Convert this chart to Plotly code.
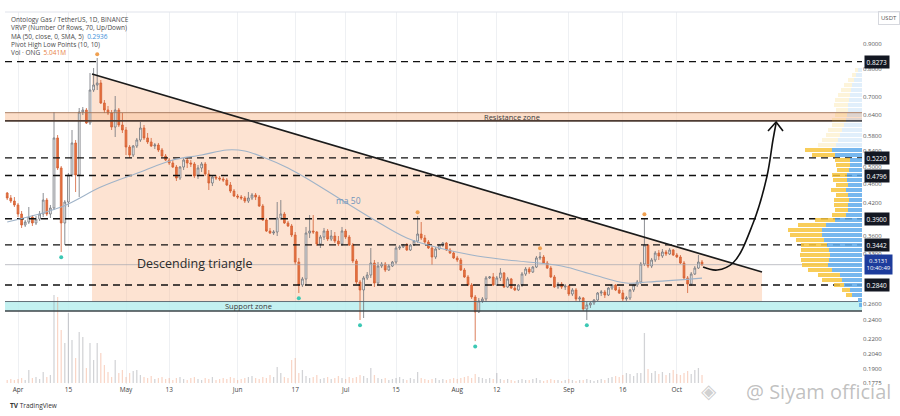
import numpy as np
import pandas as pd
import plotly.graph_objects as go

# ONG / USDT daily candles, 29 Mar 2024 -> 8 Oct 2024
start_date = "2024-03-29"

opens = [
    .4412, .4308, .4246, .4166, .3990, .3786, .3840, .3933, .3822, .3896,
    .3990, .4266, .3990, .4106, .5741, .4973, .3822, .4226, .4809, .5605,
    .4809, .6500, .6563, .6167, .7222, .7397, .7468, .6787, .6563, .6469,
    .6050, .6563, .6109, .5964, .5498, .5291, .5525, .5686, .6022, .5741,
    .5632, .5525, .5551, .5420, .5266, .5166, .5093, .4996, .4740, .4996,
    .5166, .5093, .5069, .4786, .4973, .5069, .4832, .4628, .4763, .4740,
    .4718, .4695, .4584, .4454, .4349, .4328, .4308, .4246, .4308, .4370,
    .4328, .4146, .3877, .3678, .3643, .3661, .3914, .3990, .3822, .3768,
    .3609, .3171, .2841, .2924, .3643, .3678, .3661, .3457, .3574, .3678,
    .3540, .3591, .3506, .3457, .3678, .3574, .3440, .3187, .2882, .2774,
    .2938, .2980, .3156, .2868, .3111, .3141, .3052, .3111, .3171, .3391,
    .3407, .3440, .3359, .3440, .3506, .3626, .3557, .3490, .3391, .3248,
    .3375, .3440, .3473, .3359, .3311, .3233, .3202, .3052, .2952, .2841,
    .2682, .2497, .2632, .2657, .2938, .2952, .2841, .2938, .3009, .2814,
    .2924, .2800, .2774, .2841, .2994, .3067, .3023, .3096, .3233, .3248,
    .3156, .3081, .2952, .2814, .2854, .2814, .2827, .2721, .2774, .2657,
    .2670, .2533, .2582, .2607, .2644, .2734, .2747, .2708, .2800, .2841,
    .2774, .2734, .2657, .2670, .2774, .2841, .2882, .3141, .3440, .3111,
    .3202, .3311, .3264, .3327, .3295, .3359, .3279, .3248, .3156, .2938,
    .2854, .2994, .3081, .3171,
]
highs = [
    .4433, .4370, .4328, .4206, .4048, .3877, .4126, .3971, .3952, .4048,
    .4412, .4308, .4166, .6500, .5823, .5020, .4266, .4855, .5964, .5686,
    .6626, .6658, .6626, .7834, .8023, .8417, .7576, .6885, .6690, .6563,
    .7018, .6626, .6469, .6050, .5551, .5551, .5741, .6197, .6109, .5879,
    .5741, .5605, .5605, .5472, .5317, .5216, .5166, .5044, .5020, .5216,
    .5241, .5166, .5117, .5044, .5117, .5117, .4925, .4809, .4809, .4786,
    .4763, .4740, .4650, .4497, .4391, .4370, .4349, .4433, .4412, .4412,
    .4370, .4186, .3914, .3732, .3696, .4226, .4266, .4029, .3859, .3804,
    .3661, .3233, .2952, .3750, .3971, .3971, .3678, .3609, .3732, .3714,
    .3696, .3661, .3591, .3750, .3714, .3609, .3473, .3217, .2910, .2966,
    .3023, .3391, .3202, .3171, .3171, .3171, .3141, .3187, .3424, .3440,
    .3457, .3473, .3457, .3523, .3952, .3840, .3609, .3523, .3424, .3407,
    .3457, .3490, .3490, .3391, .3343, .3264, .3233, .3081, .2980, .2868,
    .2708, .2670, .2682, .2966, .2966, .3009, .2966, .3081, .3023, .2952,
    .2938, .2827, .2854, .3023, .3096, .3096, .3111, .3264, .3327, .3279,
    .3187, .3111, .2980, .2882, .2882, .2854, .2841, .2800, .2800, .2695,
    .2682, .2619, .2619, .2657, .2747, .2774, .2774, .2814, .2854, .2854,
    .2814, .2774, .2695, .2787, .2854, .2910, .3171, .3914, .3457, .3233,
    .3343, .3359, .3375, .3359, .3391, .3375, .3311, .3279, .3187, .2966,
    .3023, .3111, .3279, .3202,
]
lows = [
    .4266, .4206, .4126, .3933, .3732, .3750, .3804, .3768, .3786, .3859,
    .3933, .3952, .3914, .4067, .4925, .3327, .3440, .4126, .4763, .4433,
    .4328, .6408, .6138, .6109, .7153, .7222, .6754, .6469, .6408, .5964,
    .5768, .6050, .5879, .5291, .5216, .5241, .5472, .5632, .5686, .5578,
    .5498, .5446, .5368, .5241, .5142, .5044, .4973, .4673, .4695, .4925,
    .4973, .4996, .4740, .4718, .4878, .4786, .4476, .4562, .4695, .4673,
    .4650, .4562, .4412, .4328, .4287, .4266, .4206, .4206, .4266, .4266,
    .4126, .3859, .3661, .3626, .3609, .3591, .3877, .3804, .3750, .3574,
    .3126, .2734, .2814, .2841, .3557, .3626, .3424, .3391, .3523, .3506,
    .3506, .3473, .3424, .3424, .3540, .3424, .3156, .2854, .2403, .2426,
    .2910, .2938, .2814, .2841, .3081, .3023, .3038, .3096, .3141, .3359,
    .3391, .3343, .3343, .3424, .3473, .3523, .3457, .3375, .3126, .3217,
    .3359, .3407, .3343, .3295, .3217, .3171, .3038, .2938, .2827, .2657,
    .2172, .2485, .2607, .2619, .2924, .2827, .2827, .2896, .2800, .2800,
    .2787, .2760, .2760, .2814, .2966, .2994, .3009, .3081, .3202, .3141,
    .3067, .2938, .2800, .2787, .2787, .2774, .2695, .2695, .2632, .2619,
    .2509, .2403, .2545, .2582, .2632, .2695, .2670, .2695, .2774, .2760,
    .2721, .2632, .2632, .2644, .2747, .2814, .2854, .3111, .3081, .3081,
    .3171, .3202, .3233, .3264, .3279, .3264, .3233, .3141, .2924, .2734,
    .2827, .2980, .3067, .3111,
]
closes = [
    .4308, .4246, .4166, .3990, .3786, .3840, .3933, .3822, .3896, .3990,
    .4266, .3990, .4106, .5741, .4973, .3822, .4226, .4809, .5605, .4809,
    .6500, .6563, .6167, .7222, .7397, .7468, .6787, .6563, .6469, .6050,
    .6563, .6109, .5964, .5498, .5291, .5525, .5686, .6022, .5741, .5632,
    .5525, .5551, .5420, .5266, .5166, .5093, .4996, .4740, .4996, .5166,
    .5093, .5069, .4786, .4973, .5069, .4832, .4628, .4763, .4740, .4718,
    .4695, .4584, .4454, .4349, .4328, .4308, .4246, .4308, .4370, .4328,
    .4146, .3877, .3678, .3643, .3661, .3914, .3990, .3822, .3768, .3609,
    .3171, .2841, .2924, .3643, .3678, .3661, .3457, .3574, .3678, .3540,
    .3591, .3506, .3457, .3678, .3574, .3440, .3187, .2882, .2774, .2938,
    .2980, .3156, .2868, .3111, .3141, .3052, .3111, .3171, .3391, .3407,
    .3440, .3359, .3440, .3506, .3626, .3557, .3490, .3391, .3248, .3375,
    .3440, .3473, .3359, .3311, .3233, .3202, .3052, .2952, .2841, .2682,
    .2497, .2632, .2657, .2938, .2952, .2841, .2938, .3009, .2814, .2924,
    .2800, .2774, .2841, .2994, .3067, .3023, .3096, .3233, .3248, .3156,
    .3081, .2952, .2814, .2854, .2814, .2827, .2721, .2774, .2657, .2670,
    .2533, .2582, .2607, .2644, .2734, .2747, .2708, .2800, .2841, .2774,
    .2734, .2657, .2670, .2774, .2841, .2882, .3141, .3440, .3111, .3202,
    .3311, .3264, .3327, .3295, .3359, .3279, .3248, .3156, .2938, .2854,
    .2994, .3081, .3171, .3131,
]
# daily volume (relative, M ONG)
volumes = [
    3, 4, 3, 4, 5, 3, 13, 5, 6, 4,
    11, 6, 8, 88, 86, 53, 40, 70, 43, 25,
    51, 46, 15, 40, 23, 40, 30, 18, 11, 6,
    23, 10, 13, 6, 10, 12, 13, 8, 6, 5,
    7, 4, 5, 6, 4, 5, 3, 5, 6, 4,
    3, 5, 6, 4, 3, 5, 4, 6, 3, 4,
    5, 4, 6, 5, 3, 4, 5, 6, 7, 5,
    4, 6, 5, 8, 6, 16, 10, 6, 5, 23,
    25, 10, 13, 7, 5, 6, 8, 4, 5, 6,
    4, 5, 7, 5, 4, 6, 5, 6, 8, 7,
    5, 15, 8, 5, 4, 5, 3, 4, 5, 6,
    4, 3, 5, 4, 11, 5, 4, 3, 4, 5,
    3, 4, 3, 4, 5, 4, 5, 6, 7, 5,
    9, 6, 5, 4, 5, 4, 10, 4, 3, 4,
    3, 2, 3, 4, 3, 3, 4, 5, 3, 2,
    3, 4, 3, 3, 2, 3, 4, 3, 2, 3,
    3, 4, 3, 2, 3, 4, 3, 5, 6, 7,
    6, 8, 10, 9, 7, 10, 10, 50, 14, 10,
    12, 9, 11, 8, 10, 13, 9, 8, 10, 12,
    9, 13, 15, 8,
]

# MA (50, close) sampled along the drawn line
ma_dates = ["2024-03-29", "2024-04-13", "2024-04-24", "2024-05-05", "2024-05-14",
            "2024-05-22", "2024-05-29", "2024-06-03", "2024-06-08", "2024-06-15",
            "2024-06-20", "2024-06-29", "2024-07-09", "2024-07-18", "2024-07-27",
            "2024-08-05", "2024-08-15", "2024-08-30", "2024-09-08", "2024-09-17",
            "2024-09-23", "2024-10-08"]
ma_values = [.3840, .4126, .4540, .4878, .5166, .5291, .5420, .5394, .5241, .4973,
             .4740, .4308, .3877, .3557, .3391, .3279, .3202, .3111, .2980, .2868,
             .2882, .2936]

# Pivot High Low Points (10, 10)
pivot_high_dates = ["2024-04-23", "2024-07-21", "2024-08-24", "2024-09-22"]
pivot_low_dates = ["2024-04-13", "2024-06-18", "2024-07-05", "2024-08-06", "2024-09-06"]

# drawn levels
key_levels = [0.8273, 0.5220, 0.4796, 0.3900, 0.3442, 0.2840]
last_price = 0.3131
last_time = "10:40:49"
resistance_zone = [0.623, 0.648]
support_zone = [0.2509, 0.2625]
triangle_start = ["2024-04-21 13:30", 0.7797]
triangle_end = ["2024-10-24 16:00", 0.3023]

# hand-drawn breakout arrow
arrow_dates = ["2024-10-08 07:00", "2024-10-12 05:00", "2024-10-16 14:00", "2024-10-22 05:00",
               "2024-10-26 00:00", "2024-10-27 17:00", "2024-10-28 14:00"]
arrow_prices = [0.3096, 0.3052, 0.3156, 0.3822, 0.4763, 0.5686, 0.6167]
arrow_head_dates = ["2024-10-26 08:00", "2024-10-28 14:00", "2024-10-30 12:00"]
arrow_head_prices = [0.5936, 0.6197, 0.5936]

# VRVP rows (Up/Down volume per price row)
profile_prices = [0.7947, 0.7759, 0.7576, 0.7397, 0.7222, 0.7051, 0.6885, 0.6722, 0.6563, 0.6408,
                  0.6256, 0.6109, 0.5964, 0.5823, 0.5686, 0.5551, 0.5420, 0.5291, 0.5166, 0.5044,
                  0.4925, 0.4809, 0.4695, 0.4584, 0.4476, 0.4370, 0.4266, 0.4166, 0.4067, 0.3971,
                  0.3877, 0.3786, 0.3696, 0.3609, 0.3523, 0.3440, 0.3359, 0.3279, 0.3202, 0.3126,
                  0.3052, 0.2980, 0.2910, 0.2841, 0.2774, 0.2708, 0.2644, 0.2582]
profile_up = [4, 6, 8, 10, 11, 12, 13, 14, 14, 15, 16, 18, 20, 22, 24, 26,
              30, 27, 12, 12, 13, 15, 15, 14, 16, 14, 13, 14, 14, 16, 27, 36,
              40, 40, 38, 35, 33, 32, 33, 34, 30, 22, 20, 18, 12, 10, 4, 3]
profile_down = [3, 4, 6, 8, 10, 12, 14, 14, 12, 12, 14, 12, 14, 14, 16, 18,
                27, 23, 15, 14, 12, 15, 14, 12, 15, 12, 15, 14, 13, 14, 20, 28,
                34, 32, 28, 26, 28, 30, 28, 26, 24, 22, 20, 10, 8, 6, 0, 0]

# axes
tick_prices = [0.9, 0.8, 0.7, 0.64, 0.58, 0.54, 0.5, 0.46, 0.42, 0.36, 0.33,
               0.26, 0.24, 0.22, 0.204, 0.19, 0.1775]
date_ticks = ["2024-04-01", "2024-04-15", "2024-05-01", "2024-05-13", "2024-06-01",
              "2024-06-17", "2024-07-01", "2024-07-15", "2024-08-01", "2024-08-12",
              "2024-09-01", "2024-09-16", "2024-10-01"]
date_labels = ["Apr", "15", "May", "13", "Jun", "17", "Jul", "15", "Aug", "12", "Sep", "16", "Oct"]

x_range = ["2024-03-28 09:20", "2024-11-21 10:34"]
y_range = [np.log10(0.1769), np.log10(1.049)]

FONT = "Open Sans"
UP_LINE = "#6f7278"
DOWN_FILL = "#e8733f"
DOWN_LINE = "#d35f33"

dates = pd.date_range(start_date, periods=len(closes), freq="D")
fig = go.Figure()

# ---- base layer: triangle & zones fills
fig.add_trace(go.Scatter(
    x=[triangle_start[0], triangle_end[0], triangle_end[0], triangle_start[0]],
    y=[triangle_start[1], triangle_end[1], support_zone[1], support_zone[1]],
    fill="toself", fillcolor="rgba(250,188,148,0.42)", mode="lines",
    line=dict(width=0), hoverinfo="skip", xaxis="x", yaxis="y"))
for zone, col in [(resistance_zone, "rgba(250,200,165,0.6)"), (support_zone, "rgba(185,238,238,0.85)")]:
    fig.add_trace(go.Scatter(
        x=[x_range[0], x_range[1], x_range[1], x_range[0]],
        y=[zone[0], zone[0], zone[1], zone[1]],
        fill="toself", fillcolor=col, mode="lines", line=dict(width=0),
        hoverinfo="skip", xaxis="x", yaxis="y"))

# ---- volume profile (right side)
ROW_HALF = np.exp(2.0 / 209)


def row_polys(prices, left, right):
    xs, ys = [], []
    for p, a, b in zip(prices, left, right):
        if b <= a:
            continue
        lo, hi = p / ROW_HALF, p * ROW_HALF
        xs += [a, b, b, a, a, None]
        ys += [lo, lo, hi, hi, lo, None]
    return xs, ys


up_arr = np.array(profile_up, dtype=float)
down_arr = np.array(profile_down, dtype=float)
pr_arr = np.array(profile_prices)
for faded, alpha in [(True, 0.22), (False, 1.0)]:
    sel = (pr_arr > 0.55) if faded else (pr_arr <= 0.55)
    bx, by = row_polys(pr_arr[sel], np.zeros(sel.sum()), up_arr[sel])
    yx, yy = row_polys(pr_arr[sel], up_arr[sel], up_arr[sel] + down_arr[sel])
    fig.add_trace(go.Scatter(x=bx, y=by, fill="toself", mode="lines", line=dict(width=0),
                             fillcolor=f"rgba(95,170,235,{0.85 * alpha})",
                             hoverinfo="skip", xaxis="x2", yaxis="y"))
    fig.add_trace(go.Scatter(x=yx, y=yy, fill="toself", mode="lines", line=dict(width=0),
                             fillcolor=f"rgba(247,196,60,{0.85 * alpha})",
                             hoverinfo="skip", xaxis="x2", yaxis="y"))

# ---- volume bars
vol_colors = ["rgba(125,128,138,0.35)" if c >= o else "rgba(235,120,70,0.3)"
              for o, c in zip(opens, closes)]
fig.add_trace(go.Bar(x=dates, y=volumes, marker=dict(color=vol_colors, line=dict(width=0)),
                     width=0.35 * 86400000, hoverinfo="skip", xaxis="x", yaxis="y2"))

# ---- top layer: lines, candles, indicators
for zone, top_col, bot_col in [(resistance_zone, "#a07458", "#4e3c33"),
                               (support_zone, "#55606a", "#3d4449")]:
    fig.add_trace(go.Scatter(x=x_range, y=[zone[1], zone[1]], mode="lines",
                             line=dict(color=top_col, width=0.9), hoverinfo="skip",
                             xaxis="x", yaxis="y3"))
    fig.add_trace(go.Scatter(x=x_range, y=[zone[0], zone[0]], mode="lines",
                             line=dict(color=bot_col, width=1.6), hoverinfo="skip",
                             xaxis="x", yaxis="y3"))

lx, ly = [], []
for lvl in key_levels:
    lx += [x_range[0], x_range[1], None]
    ly += [lvl, lvl, None]
fig.add_trace(go.Scatter(x=lx, y=ly, mode="lines",
                         line=dict(color="#111111", width=1.4, dash="7px,5px"),
                         hoverinfo="skip", xaxis="x", yaxis="y3"))
fig.add_trace(go.Scatter(x=x_range, y=[last_price, last_price], mode="lines",
                         line=dict(color="#a5a8b0", width=0.7), hoverinfo="skip",
                         xaxis="x", yaxis="y3"))

fig.add_trace(go.Scatter(x=ma_dates, y=ma_values, mode="lines",
                         line=dict(color="#9fb3c8", width=1.1, shape="spline", smoothing=1.0),
                         hoverinfo="skip", xaxis="x", yaxis="y3"))

fig.add_trace(go.Candlestick(
    x=dates, open=opens, high=highs, low=lows, close=closes,
    increasing=dict(line=dict(color=UP_LINE, width=0.8), fillcolor="white"),
    decreasing=dict(line=dict(color=DOWN_LINE, width=0.8), fillcolor=DOWN_FILL),
    whiskerwidth=0, hoverinfo="skip", xaxis="x", yaxis="y3"))

fig.add_trace(go.Scatter(x=[triangle_start[0], triangle_end[0]],
                         y=[triangle_start[1], triangle_end[1]], mode="lines",
                         line=dict(color="#1b1b1b", width=1.7), hoverinfo="skip",
                         xaxis="x", yaxis="y3"))

hi_idx = dates.get_indexer(pd.to_datetime(pivot_high_dates))
lo_idx = dates.get_indexer(pd.to_datetime(pivot_low_dates))
fig.add_trace(go.Scatter(x=dates[hi_idx], y=np.array(highs)[hi_idx] * 1.018, mode="markers",
                         marker=dict(color="#f0a050", size=4), hoverinfo="skip",
                         xaxis="x", yaxis="y3"))
fig.add_trace(go.Scatter(x=dates[lo_idx], y=np.array(lows)[lo_idx] * 0.975, mode="markers",
                         marker=dict(color="#3cc8b4", size=4), hoverinfo="skip",
                         xaxis="x", yaxis="y3"))

fig.add_trace(go.Scatter(x=arrow_dates, y=arrow_prices, mode="lines",
                         line=dict(color="#111111", width=1.6, shape="spline", smoothing=1.1),
                         hoverinfo="skip", xaxis="x", yaxis="y3"))
fig.add_trace(go.Scatter(x=arrow_head_dates, y=arrow_head_prices, mode="lines",
                         line=dict(color="#111111", width=1.6), hoverinfo="skip",
                         xaxis="x", yaxis="y3"))

# ---- annotations
ann = []
legend_lines = [
    "Ontology Gas / TetherUS, 1D, BINANCE",
    "VRVP (Number Of Rows, 70, Up/Down)",
    "MA (50, close, 0, SMA, 5)  <span style='color:#3b8fd9'>0.2936</span>",
    "Pivot High Low Points (10, 10)",
    "Vol · ONG  <span style='color:#e8823f'>5.041M</span>",
]
for i, txt in enumerate(legend_lines):
    ann.append(dict(x=0.005, y=0.979 - i * 0.0218, xref="paper", yref="paper", text=txt,
                    xanchor="left", yanchor="middle", showarrow=False,
                    font=dict(size=6.5, color="#4a4a4a", family=FONT)))

for lvl in key_levels:
    ann.append(dict(x=1.0, y=np.log10(lvl), xref="paper", yref="y", text=f"{lvl:.4f}",
                    xanchor="left", yanchor="middle", xshift=2, showarrow=False,
                    bgcolor="#131722", borderpad=1.5,
                    font=dict(size=6.5, color="white", family=FONT)))
ann.append(dict(x=1.0, y=np.log10(last_price), xref="paper", yref="y",
                text=f"{last_price:.4f}<br>{last_time}", xanchor="left", yanchor="middle",
                xshift=2, showarrow=False, bgcolor="#1d3c9c", borderpad=1.5,
                font=dict(size=6, color="white", family=FONT)))
ann.append(dict(x=1.019, y=0.984, xref="paper", yref="paper", text="USDT",
                xanchor="left", yanchor="middle", showarrow=False, bordercolor="#d6d8de",
                borderwidth=1, borderpad=2, font=dict(size=6, color="#555", family=FONT)))

ann.append(dict(x="2024-05-20 05:00", y=np.log10(0.3156), xref="x", yref="y",
                text="Descending triangle", showarrow=False,
                font=dict(size=12.5, color="#2b2b2b", family=FONT)))
ann.append(dict(x="2024-07-01 17:00", y=np.log10(0.4266), xref="x", yref="y",
                text="ma 50", showarrow=False,
                font=dict(size=8.5, color="#6f93bb", family=FONT)))
ann.append(dict(x=0.5916, y=np.log10(np.sqrt(resistance_zone[0] * resistance_zone[1])),
                xref="paper", yref="y", text="Resistance zone", showarrow=False,
                font=dict(size=7.5, color="#3a3a3a", family=FONT)))
ann.append(dict(x=0.2544, y=np.log10(np.sqrt(support_zone[0] * support_zone[1])),
                xref="paper", yref="y", text="Support zone", showarrow=False,
                font=dict(size=7.5, color="#3a3a3a", family=FONT)))

ann.append(dict(x=1.036, y=-0.02, xref="paper", yref="paper", text="@ Siyam official",
                showarrow=False, xanchor="right", yanchor="middle",
                font=dict(size=20, color="rgba(140,140,140,0.55)", family=FONT)))
ann.append(dict(x=0.822, y=-0.02, xref="paper", yref="paper", text="◈",
                showarrow=False, xanchor="center", yanchor="middle",
                font=dict(size=20, color="rgba(150,150,150,0.45)", family="DejaVu Sans")))
ann.append(dict(x=0.004, y=-0.059, xref="paper", yref="paper",
                text="<b>TV</b> TradingView", showarrow=False, xanchor="left",
                yanchor="middle", font=dict(size=6.5, color="#333", family=FONT)))

fig.update_layout(
    width=900, height=416,
    margin=dict(l=5, r=38, t=12, b=32),
    paper_bgcolor="white", plot_bgcolor="white",
    showlegend=False,
    font=dict(family=FONT),
    annotations=ann,
    xaxis=dict(type="date", range=x_range, tickvals=date_ticks, ticktext=date_labels,
               showgrid=True, gridcolor="#eef0f3", gridwidth=1, zeroline=False,
               showline=False, ticks="", tickfont=dict(size=6.5, color="#444"),
               rangeslider=dict(visible=False)),
    yaxis=dict(type="log", range=y_range, side="right", tickvals=tick_prices,
               ticktext=[f"{v:.4f}" for v in tick_prices], showgrid=False,
               zeroline=False, ticks="", tickfont=dict(size=6, color="#555")),
    xaxis2=dict(overlaying="x", range=[857, 0], visible=False),
    yaxis2=dict(overlaying="y", range=[-1, 371], visible=False),
    yaxis3=dict(overlaying="y", type="log", range=y_range, visible=False),
    shapes=[dict(type="line", xref="paper", yref="paper", x0=0, x1=1.045, y0=1, y1=1,
                 line=dict(color="#e0e3eb", width=1))],
)

fig.write_html("out.html", config={"displayModeBar": False},
               post_script="document.body.style.margin='0';"
                           "document.body.style.overflow='hidden';")
